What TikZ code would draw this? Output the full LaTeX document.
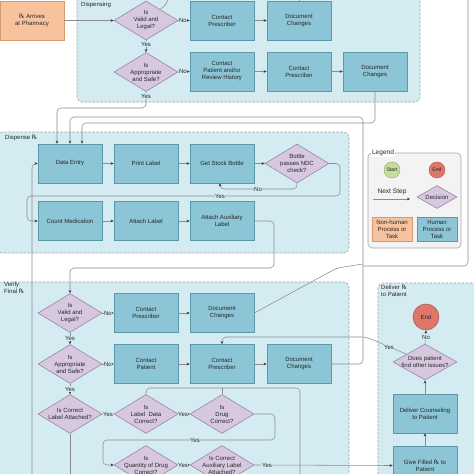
\documentclass[tikz,border=0pt]{standalone}
\usepackage{fontspec}
\setmainfont{Liberation Sans}
\newfontfamily\djv{DejaVu Sans}
\usetikzlibrary{shapes.geometric,arrows.meta}
\newcommand\rxs{{\djv ℞}}
\newcommand\fs{\fontsize{6}{7}\selectfont}
\definecolor{lanefill}{HTML}{D4EBF1}
\definecolor{laneline}{HTML}{98A8AE}
\definecolor{boxfill}{HTML}{8CC5D6}
\definecolor{boxline}{HTML}{5A98AA}
\definecolor{decfill}{HTML}{D8C8DF}
\definecolor{decline}{HTML}{9686A6}
\definecolor{orfill}{HTML}{F7C39C}
\definecolor{orline}{HTML}{D39B6F}
\definecolor{endfill}{HTML}{DF766A}
\definecolor{endline}{HTML}{B05A52}
\definecolor{startfill}{HTML}{C6DD9E}
\definecolor{startline}{HTML}{8EAA66}
\definecolor{lgfill}{HTML}{F3F3F3}
\definecolor{lgline}{HTML}{A8A8A8}
\definecolor{connc}{HTML}{8C8C8C}
\definecolor{tipc}{HTML}{2E2E2E}
\definecolor{txt}{HTML}{262626}
\newcommand\Dec[3]{\node[dec] (#1) at (#2) {}; \node[dectxt] (#1-t) at (#1) {#3};}
\begin{document}
\begin{tikzpicture}[x=1pt,y=-1pt,
  lane/.style={draw=laneline, dash pattern=on 2.5pt off 1.5pt, fill=lanefill, rounded corners=5pt, line width=0.6pt},
  task/.style={draw=boxline, fill=boxfill, minimum width=64pt, minimum height=39pt, inner sep=0pt, align=center, font=\fs, text=txt, line width=0.6pt},
  nhtask/.style={task, draw=orline, fill=orfill},
  dec/.style={diamond, draw=decline, fill=decfill, minimum width=64pt, minimum height=39pt, inner sep=0pt, line width=0.6pt},
  dectxt/.style={font=\fs, align=center, text=txt, inner sep=0pt},
  conn/.style={draw=connc, line width=0.55pt, rounded corners=4pt},
  arrw/.style={conn, -{Stealth[length=3pt,width=2.6pt,color=tipc]}},
  lbl/.style={font=\fs, fill=lanefill, inner sep=0.5pt, text=txt},
  lanelbl/.style={font=\fs, text=txt, inner sep=0pt, align=left},
]
\useasboundingbox (0,0) rectangle (474,474);
\begin{scope}
\clip (0,0) rectangle (474,474);
\fill[white] (0,0) rectangle (474,474);

% lanes
\draw[lane] (77,-10) rectangle (420,102);
\draw[lane] (-3,132) rectangle (349,253);
\draw[lane] (-3,282) rectangle (349,490);
\draw[lane] (378,283) rectangle (490,490);
\node[lanelbl, anchor=west] (lDisp) at (81,4.5) {Dispensing};
\node[lanelbl, anchor=west] (lDisR) at (5,138) {Dispense \rxs};
\node[lanelbl, anchor=north west] (lVer) at (4,281.5) {Verify\\Final \rxs};
\node[lanelbl, anchor=north west] (lDel) at (381,284.5) {Deliver \rxs\\to Patient};

% frame line on right
\coordinate (fr1) at (468,-5);
\draw[conn] (fr1) |- (363,266);

% legend
\node[draw=lgline, fill=lgfill, rounded corners=4pt, minimum width=93pt, minimum height=95pt, line width=0.6pt] (lgd) at (414.5,200.5) {};
\node[font=\fontsize{6.6}{8}\selectfont, fill=white, inner sep=0.8pt, anchor=west, text=txt] (lgt) at (371,153) {Legend};
\node[circle, draw=startline, fill=startfill, minimum size=16pt, inner sep=0pt, font=\fontsize{5.2}{6}\selectfont, text=txt] (ls) at (392,170) {Start};
\node[circle, draw=endline, fill=endfill, minimum size=16pt, inner sep=0pt, font=\fontsize{5.2}{6}\selectfont, text=txt] (le) at (437,170) {End};
\node[font=\fontsize{6.6}{8}\selectfont, text=txt, inner sep=0pt] (lns) at (392,192) {Next Step};
\coordinate (la1) at (373,199);
\coordinate (la2) at (410,199);
\draw[arrw] (la1) -- (la2);
\node[dec, minimum width=40pt, minimum height=23pt] (ldec) at (437,197) {};
\node[dectxt] (ldec-t) at (ldec) {Decision};
\node[nhtask, minimum width=40pt, minimum height=24pt] (lnh) at (392,229) {Non-human\\Process or\\Task};
\node[task, minimum width=40pt, minimum height=24pt] (lh) at (437,229) {Human\\Process or\\Task};

% ---- Dispensing (top)
\node[nhtask] (rxa) at (32,20.5) {\rxs{} Arrives\\at Pharmacy};
\Dec{d1}{146,20.5}{Is\\Valid and\\Legal?}
\node[task] (t1) at (222,20.5) {Contact\\Prescriber};
\node[task] (t2) at (299,20.5) {Document\\Changes};
\Dec{d2}{146,72}{Is\\Appropriate\\and Safe?}
\node[task] (t3) at (222,71.5) {Contact\\Patient and/or\\Review History};
\node[task] (t4) at (299,71.5) {Contact\\Prescriber};
\node[task] (t5) at (375,71.5) {Document\\Changes};

% ---- Dispense Rx
\node[task] (de) at (70,163.5) {Data Entry};
\node[task] (pl) at (146,163.5) {Print Label};
\node[task] (gs) at (222,163.5) {Get Stock Bottle};
\Dec{d3}{297,163.5}{Bottle\\passes NDC\\check?}
\node[task] (cm) at (70,221) {Count Medication};
\node[task] (al) at (146,221) {Attach Label};
\node[task] (aa) at (222,221) {Attach Auxiliary\\Label};

% ---- Verify
\Dec{d4}{70,313}{Is\\Valid and\\Legal?}
\node[task] (t6) at (146,313) {Contact\\Prescriber};
\node[task] (t7) at (222,313) {Document\\Changes};
\Dec{d5}{70,364}{Is\\Appropriate\\and Safe?}
\node[task] (t8) at (146,364) {Contact\\Patient};
\node[task] (t9) at (222,364) {Contact\\Prescriber};
\node[task] (t10) at (299,364) {Document\\Changes};
\Dec{d6}{70,414}{Is Correct\\Label Attached?}
\Dec{d7}{146,414}{Is\\Label~~Data\\Correct?}
\Dec{d8}{222,414}{Is\\Drug\\Correct?}
\Dec{d9}{146,465}{Is\\Quantity of Drug\\Correct?}
\Dec{d10}{222,465}{Is Correct\\Auxiliary Label\\Attached?}

% ---- Deliver
\node[circle, draw=endline, fill=endfill, minimum size=26pt, inner sep=0pt, font=\fs, text=txt, line width=0.6pt] (endc) at (426,317) {End};
\node[dec, minimum width=64pt, minimum height=36pt] (d11) at (425,362) {};
\node[dectxt] (d11-t) at (d11) {Does patient\\find other issues?};
\node[task] (t11) at (425,413.5) {Deliver Counseling\\to Patient};
\node[task] (t12) at (425,465.5) {Give Filled \rxs{} to\\Patient};

% ---- connectors top
\coordinate (arcA) at (168,-4);
\draw[conn] (arcA) .. controls (168,3) and (165,6) .. (160.5,9);
\coordinate (t2up) at (299,-5);
\draw[conn] (t2.north) -- (t2up);
\draw[arrw] (rxa.east) -- (d1.west);
\draw[arrw] (d1.east) -- (t1.west);
\node[lbl] (n1) at (183,20.5) {No};
\draw[arrw] (t1.east) -- (t2.west);
\draw[arrw] (d1.south) -- (d2.north);
\node[lbl] (y1) at (146,44) {Yes};
\draw[arrw] (d2.east) -- (t3.west);
\node[lbl] (n2) at (183,71.5) {No};
\draw[arrw] (t3.east) -- (t4.west);
\draw[arrw] (t4.east) -- (t5.west);
\draw[arrw] (d2.south) |- (57,108) -- ([xshift=-13pt]de.north);
\node[lbl] (y2) at (146,96) {Yes};
\draw[arrw] (t5.south) |- (82,123) -- ([xshift=12pt]de.north);
\draw[arrw] (t10.east) -| (363,117) -| (de.north);

% ---- connectors dispense
\draw[arrw] (de.east) -- (pl.west);
\draw[arrw] (pl.east) -- (gs.west);
\draw[arrw] (gs.east) -- (d3.west);
\draw[arrw] (d3.south) -- (297,189) -| ([xshift=-2pt]gs.south);
\node[lbl] (n3) at (258,189) {No};
\draw[arrw] (d3.east) -| (340,196) -- (27,196) |- (cm.west);
\node[lbl] (y3) at (220,196) {Yes};
\coordinate (b32) at (32,480);
\draw[arrw] (b32) |- (de.west);
\draw[arrw] (cm.east) -- (al.west);
\draw[arrw] (al.east) -- (aa.west);
\draw[arrw] (aa.east) -| (274,268) -- (70,268) -- (d4.north);

% ---- connectors verify
\draw[arrw] (d4.east) -- (t6.west);
\node[lbl] (n4) at (108,313) {No};
\draw[arrw] (t6.east) -- (t7.west);
\coordinate (j1) at (363,264);
\draw[conn] (t7.east) -- (337,268) -- (j1);
\draw[arrw] (d4.south) -- (d5.north);
\node[lbl] (y4) at (70,338.5) {Yes};
\draw[arrw] (d5.east) -- (t8.west);
\node[lbl] (n5) at (108,364) {No};
\draw[arrw] (t8.east) -- (t9.west);
\draw[arrw] (t9.east) -- (t10.west);
\draw[arrw] (d5.south) -- (d6.north);
\node[lbl] (y5) at (70,389) {Yes};
\coordinate (b70) at (70,480);
\draw[conn] (d6.south) -- (b70);
\draw[arrw] (d6.east) -- (d7.west);
\node[lbl] (y6) at (108,414) {Yes};
\draw[arrw] (d7.east) -- (d8.west);
\node[lbl] (y7) at (183,414) {Yes};
\coordinate (b300) at (300,480);
\draw[conn] (d7.north) |- (300,388) -- (b300);
\draw[conn] (d8.north) -- (222,388);
\draw[arrw] (d8.east) -| (275,440) -| (103,465) -- (d9.west);
\node[lbl] (y8) at (195,440) {Yes};
\draw[arrw] (d9.east) -- (d10.west);
\node[lbl] (y9) at (183,465) {Yes};
\draw[arrw] (d10.east) -- (t12.west);
\node[lbl] (y10) at (267,465) {Yes};

% ---- connectors deliver
\draw[arrw] (t12.north) -- (t11.south);
\draw[arrw] (t11.north) -- (d11.south);
\draw[arrw] (d11.north) -- (endc.south);
\node[lbl] (n6) at (426,337) {No};
\draw[arrw] (d11) -- (366,337) -| (t9.north);
\node[lbl] (y11) at (389,347) {Yes};
\end{scope}
\end{tikzpicture}
\end{document}
